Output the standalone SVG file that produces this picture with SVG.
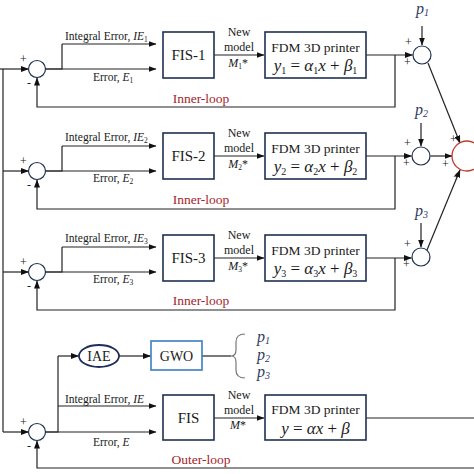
<svg xmlns="http://www.w3.org/2000/svg" width="474" height="474" viewBox="0 0 474 474" font-family="'Liberation Serif','Times New Roman',serif">
<defs>
<marker id="ah" markerWidth="8" markerHeight="6" refX="7.5" refY="3" orient="auto" markerUnits="userSpaceOnUse">
<path d="M0,0 L8,3 L0,6 Z" fill="#111"/>
</marker>
<style>
text{font-family:"Liberation Serif","Times New Roman",serif;fill:#1a1a1a}
.ln{fill:none;stroke:#222;stroke-width:1.2}
.ar{fill:none;stroke:#222;stroke-width:1.2;marker-end:url(#ah)}
.sum{fill:#fff;stroke:#1f3050;stroke-width:1.2}
.box{fill:#fff;stroke:#1f3050;stroke-width:1.6}
.lbl{font-size:11.5px}
.sm{font-size:12px;text-anchor:middle}
.fis{font-size:15px;text-anchor:middle}
.fdm{font-size:13.5px;text-anchor:middle}
.nd{font-size:14px;text-anchor:middle}
.eq{font-size:17px;text-anchor:middle;font-style:italic}
.red{font-size:13.5px;fill:#a3262a;text-anchor:middle}
.pm{font-size:12px}
.p{font-size:16px;font-style:italic;fill:#2f3b5c}
.it{font-style:italic}
</style>
</defs>
<rect width="474" height="474" fill="#fff"/>

<g id="connectors">
<path class="ln" d="M3,69 V432"/>
<path class="ar" d="M0,69 H28.5"/>
<path class="ar" d="M3,171 H28.5"/>
<path class="ar" d="M3,272 H28.5"/>
<path class="ar" d="M3,432 H28.5"/>

<path class="ln" d="M45.5,69 H62 V44"/>
<path class="ar" d="M62,44 H156"/>
<path class="ar" d="M45.5,69 H156"/>
<path class="ar" d="M214,55 H264"/>
<path class="ar" d="M366,55 H412.5"/>
<path class="ar" d="M395,55 V107 H37 V78"/>
<path class="ar" d="M422,26 V45"/>
<path class="ar" d="M428,63 L460,143"/>

<path class="ln" d="M45.5,171 H62 V146"/>
<path class="ar" d="M62,146 H156"/>
<path class="ar" d="M45.5,171 H156"/>
<path class="ar" d="M214,156 H264"/>
<path class="ar" d="M366,156 H411.5"/>
<path class="ar" d="M395,156 V209 H37 V180"/>
<path class="ar" d="M421,123 V146"/>
<path class="ar" d="M430.5,156 H452"/>

<path class="ln" d="M45.5,272 H62 V247"/>
<path class="ar" d="M62,247 H156"/>
<path class="ar" d="M45.5,272 H156"/>
<path class="ar" d="M214,258 H264"/>
<path class="ar" d="M366,258 H411.5"/>
<path class="ar" d="M395,258 V310 H37 V281"/>
<path class="ar" d="M421,223 V247"/>
<path class="ar" d="M427,250 L460,170"/>

<path class="ln" d="M45.5,432 H58 V356"/>
<path class="ar" d="M58,356 H78.5"/>
<path class="ar" d="M58,406 H156"/>
<path class="ar" d="M45.5,432 H156"/>
<path class="ar" d="M119,356 H150.5"/>
<path class="ln" d="M202,356 H231"/>
<path class="ar" d="M214,418 H264"/>
<path class="ln" d="M366,418 H474"/>
<path class="ar" d="M474,468 H37 V441"/>
</g>

<g id="sum1">
<circle class="sum" cx="37" cy="69" r="8.5"/>
<text class="pm" x="20" y="63">+</text>
<text class="pm" x="27" y="87">-</text>
</g>
<g id="fis1">
<rect class="box" x="163" y="32" width="51" height="46"/>
<text class="fis" x="188.5" y="60">FIS-1</text>
</g>
<g id="fdm1">
<rect class="box" x="265" y="32" width="101" height="46"/>
<text class="fdm" x="315.5" y="52">FDM 3D printer</text>
<text class="eq" x="315.5" y="71">y<tspan font-size="10" dy="3" font-style="normal">1</tspan><tspan dy="-3" font-style="normal"> = </tspan>α<tspan font-size="10" dy="3" font-style="normal">1</tspan><tspan dy="-3">x</tspan><tspan font-style="normal"> + </tspan>β<tspan font-size="10" dy="3" font-style="normal">1</tspan></text>
</g>
<g id="labels1">
<text class="lbl" x="65" y="40">Integral Error, <tspan class="it">IE</tspan><tspan font-size="7.5" dy="2">1</tspan></text>
<text class="lbl" x="93" y="81">Error,  <tspan class="it">E</tspan><tspan font-size="7.5" dy="2">1</tspan></text>
<text class="sm" x="239" y="36">New</text>
<text class="sm" x="239" y="51">model</text>
<text class="sm" x="238" y="67"><tspan class="it">M</tspan><tspan font-size="7.5" dy="2">1</tspan><tspan dy="-2">*</tspan></text>
<text class="red" x="201" y="103">Inner-loop</text>
</g>
<g id="mix1">
<circle class="sum" cx="422" cy="55" r="9"/>
<text class="p" x="416" y="14">p<tspan font-size="10" dy="2">1</tspan></text>
<text class="pm" x="405" y="46">+</text>
<text class="pm" x="404" y="66">+</text>
</g>

<g id="sum2">
<circle class="sum" cx="37" cy="171" r="8.5"/>
<text class="pm" x="20" y="165">+</text>
<text class="pm" x="27" y="189">-</text>
</g>
<g id="fis2">
<rect class="box" x="163" y="133" width="51" height="46"/>
<text class="fis" x="188.5" y="161">FIS-2</text>
</g>
<g id="fdm2">
<rect class="box" x="265" y="133" width="101" height="46"/>
<text class="fdm" x="315.5" y="153">FDM 3D printer</text>
<text class="eq" x="315.5" y="172">y<tspan font-size="10" dy="3" font-style="normal">2</tspan><tspan dy="-3" font-style="normal"> = </tspan>α<tspan font-size="10" dy="3" font-style="normal">2</tspan><tspan dy="-3">x</tspan><tspan font-style="normal"> + </tspan>β<tspan font-size="10" dy="3" font-style="normal">2</tspan></text>
</g>
<g id="labels2">
<text class="lbl" x="65" y="141">Integral Error, <tspan class="it">IE</tspan><tspan font-size="7.5" dy="2">2</tspan></text>
<text class="lbl" x="93" y="182">Error,  <tspan class="it">E</tspan><tspan font-size="7.5" dy="2">2</tspan></text>
<text class="sm" x="239" y="137">New</text>
<text class="sm" x="239" y="152">model</text>
<text class="sm" x="238" y="168"><tspan class="it">M</tspan><tspan font-size="7.5" dy="2">2</tspan><tspan dy="-2">*</tspan></text>
<text class="red" x="201" y="204">Inner-loop</text>
</g>
<g id="mix2">
<circle class="sum" cx="421" cy="156" r="9"/>
<text class="p" x="415" y="115">p<tspan font-size="10" dy="2">2</tspan></text>
<text class="pm" x="404" y="147">+</text>
<text class="pm" x="403" y="167">+</text>
</g>

<g id="sum3">
<circle class="sum" cx="37" cy="272" r="8.5"/>
<text class="pm" x="20" y="266">+</text>
<text class="pm" x="27" y="290">-</text>
</g>
<g id="fis3">
<rect class="box" x="163" y="235" width="51" height="46"/>
<text class="fis" x="188.5" y="263">FIS-3</text>
</g>
<g id="fdm3">
<rect class="box" x="265" y="235" width="101" height="46"/>
<text class="fdm" x="315.5" y="255">FDM 3D printer</text>
<text class="eq" x="315.5" y="274">y<tspan font-size="10" dy="3" font-style="normal">3</tspan><tspan dy="-3" font-style="normal"> = </tspan>α<tspan font-size="10" dy="3" font-style="normal">3</tspan><tspan dy="-3">x</tspan><tspan font-style="normal"> + </tspan>β<tspan font-size="10" dy="3" font-style="normal">3</tspan></text>
</g>
<g id="labels3">
<text class="lbl" x="65" y="242">Integral Error, <tspan class="it">IE</tspan><tspan font-size="7.5" dy="2">3</tspan></text>
<text class="lbl" x="93" y="283">Error,  <tspan class="it">E</tspan><tspan font-size="7.5" dy="2">3</tspan></text>
<text class="sm" x="239" y="239">New</text>
<text class="sm" x="239" y="254">model</text>
<text class="sm" x="238" y="270"><tspan class="it">M</tspan><tspan font-size="7.5" dy="2">3</tspan><tspan dy="-2">*</tspan></text>
<text class="red" x="201" y="305">Inner-loop</text>
</g>
<g id="mix3">
<circle class="sum" cx="421" cy="257" r="9"/>
<text class="p" x="415" y="216">p<tspan font-size="10" dy="2">3</tspan></text>
<text class="pm" x="404" y="248">+</text>
<text class="pm" x="403" y="268">+</text>
</g>

<g id="combiner">
<circle cx="467" cy="156" r="15" fill="#fff" stroke="#c0392b" stroke-width="1.3"/>
<text class="pm" x="450" y="143">+</text>
<text class="pm" x="442" y="168">+</text>
<text class="pm" x="453" y="181">+</text>
</g>

<g id="sum4">
<circle class="sum" cx="37" cy="432" r="8.5"/>
<text class="pm" x="20" y="426">+</text>
<text class="pm" x="27" y="450">-</text>
</g>
<g id="iae">
<ellipse cx="99" cy="356" rx="20" ry="11" fill="#fff" stroke="#1f2d5a" stroke-width="1.8"/>
<text class="nd" x="99" y="361">IAE</text>
</g>
<g id="gwo">
<rect x="151" y="341" width="51" height="29" fill="#fff" stroke="#3a7fc0" stroke-width="1.6"/>
<text class="nd" x="176.5" y="361">GWO</text>
</g>
<g id="params">
<path d="M245,334 Q236,334 236,342 V350 Q236,356 231,356 Q236,356 236,362 V370 Q236,378 245,378" fill="none" stroke="#777" stroke-width="1.2"/>
<text class="p" x="257" y="342">p<tspan font-size="10" dy="2">1</tspan></text>
<text class="p" x="257" y="360">p<tspan font-size="10" dy="2">2</tspan></text>
<text class="p" x="257" y="377">p<tspan font-size="10" dy="2">3</tspan></text>
</g>
<g id="fis4">
<rect class="box" x="163" y="395" width="51" height="45"/>
<text class="fis" x="188.5" y="423">FIS</text>
</g>
<g id="fdm4">
<rect class="box" x="265" y="395" width="101" height="45"/>
<text class="fdm" x="315.5" y="414">FDM 3D printer</text>
<text class="eq" x="315.5" y="434">y<tspan font-style="normal"> = </tspan>αx<tspan font-style="normal"> + </tspan>β</text>
</g>
<g id="labels4">
<text class="lbl" x="65" y="403">Integral Error, <tspan class="it">IE</tspan></text>
<text class="lbl" x="93" y="446">Error,  <tspan class="it">E</tspan></text>
<text class="sm" x="239" y="399">New</text>
<text class="sm" x="239" y="414">model</text>
<text class="sm" x="238" y="429"><tspan class="it">M</tspan>*</text>
<text class="red" x="201" y="464">Outer-loop</text>
</g>
</svg>
